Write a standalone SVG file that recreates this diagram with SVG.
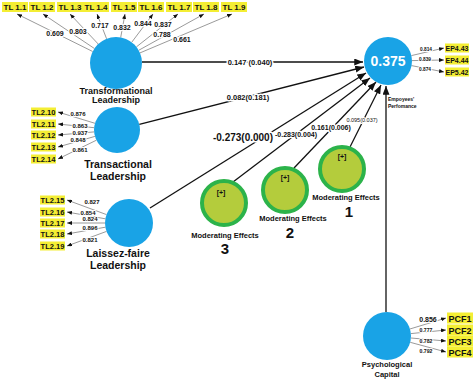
<svg xmlns="http://www.w3.org/2000/svg" width="474" height="379" viewBox="0 0 474 379">
<style>
text{font-family:"Liberation Sans",Arial,sans-serif;font-weight:bold;fill:#111}
.lv{fill:#19a3e6}
.mod{fill:#b4cc3c;stroke:#2cb34a;stroke-width:4}
.box{fill:#f4ee34}
.bt{font-size:7.5px;text-anchor:middle}
.ind{stroke:#555;stroke-width:0.6;fill:none;marker-end:url(#sh)}
.main{stroke:#111;stroke-width:1.3;fill:none;marker-end:url(#ah)}
.ld{font-size:7px;text-anchor:middle;stroke:#fff;stroke-width:2.5;paint-order:stroke;stroke-linejoin:round}
.ls{font-size:6px;text-anchor:middle;stroke:#fff;stroke-width:2;paint-order:stroke;stroke-linejoin:round}
.pl{font-size:7.5px;text-anchor:middle;stroke:#fff;stroke-width:3;paint-order:stroke;stroke-linejoin:round}
.nm{text-anchor:middle}
.me{font-size:7.5px;text-anchor:middle}
.num{font-size:15px;text-anchor:middle}
.plus{font-size:7px;text-anchor:middle}
</style>
<defs>
<marker id="ah" viewBox="0 0 10 8" markerUnits="userSpaceOnUse" markerWidth="9" markerHeight="7" refX="10" refY="4" orient="auto"><path d="M0,0 L10,4 L0,8 z" fill="#111"/></marker>
<marker id="sh" viewBox="0 0 10 8" markerUnits="userSpaceOnUse" markerWidth="5" markerHeight="4" refX="10" refY="4" orient="auto"><path d="M0,0 L10,4 L0,8 z" fill="#111"/></marker>
</defs>
<rect width="474" height="379" fill="#fff"/>

<g id="connectors">
<!-- TL1 indicators -->
<line class="ind" x1="92.7" y1="51.5" x2="17" y2="14"/>
<line class="ind" x1="94.4" y1="48.5" x2="43" y2="14"/>
<line class="ind" x1="98.2" y1="44" x2="70" y2="14"/>
<line class="ind" x1="106.6" y1="38.8" x2="97" y2="14"/>
<line class="ind" x1="120.7" y1="37.4" x2="125" y2="14"/>
<line class="ind" x1="131.7" y1="42.3" x2="153" y2="14"/>
<line class="ind" x1="136.4" y1="46.9" x2="178" y2="14"/>
<line class="ind" x1="138.7" y1="50.3" x2="204" y2="14"/>
<line class="ind" x1="140" y1="52.9" x2="232" y2="14"/>
<!-- TL2 transactional indicators -->
<line class="ind" x1="95" y1="123.3" x2="58" y2="112"/>
<line class="ind" x1="94.1" y1="127.7" x2="58" y2="124"/>
<line class="ind" x1="94.1" y1="131.9" x2="58" y2="135"/>
<line class="ind" x1="94.9" y1="136.4" x2="58" y2="147"/>
<line class="ind" x1="96.4" y1="140.2" x2="58" y2="159"/>
<!-- Laissez-faire indicators -->
<line class="ind" x1="106.5" y1="214.6" x2="67" y2="200"/>
<line class="ind" x1="105.4" y1="218.8" x2="67" y2="212"/>
<line class="ind" x1="105" y1="223" x2="67" y2="223"/>
<line class="ind" x1="105.4" y1="227.2" x2="67" y2="234"/>
<line class="ind" x1="106.5" y1="231.4" x2="67" y2="246"/>
<!-- EP indicators -->
<line class="ind" x1="411.4" y1="55.6" x2="444" y2="48"/>
<line class="ind" x1="412" y1="60.6" x2="444" y2="60"/>
<line class="ind" x1="411.5" y1="65.6" x2="444" y2="72"/>
<!-- PCF indicators -->
<line class="ind" x1="409.9" y1="329" x2="446" y2="318"/>
<line class="ind" x1="410.9" y1="333.6" x2="446" y2="330"/>
<line class="ind" x1="410.9" y1="338" x2="446" y2="341"/>
<line class="ind" x1="410.2" y1="342.3" x2="446" y2="352"/>
<!-- structural paths -->
<line class="main" x1="142" y1="62" x2="363" y2="62"/>
<line class="main" x1="139.3" y1="124.3" x2="364" y2="67"/>
<line class="main" x1="150" y1="208" x2="366" y2="73"/>
<line class="main" x1="233" y1="182" x2="370" y2="78"/>
<line class="main" x1="294" y1="168" x2="376" y2="82"/>
<line class="main" x1="350" y1="147" x2="381" y2="85"/>
<line class="main" x1="386" y1="312" x2="386" y2="86"/>
<!-- path labels -->
<text class="pl" x="250" y="64.5">0.147 (0.040)</text>
<text class="pl" x="248" y="99.5">0.082(0.181)</text>
<text class="pl" x="243" y="141" style="font-size:10px">-0.273(0.000)</text>
<text class="pl" x="296" y="136.5" style="font-size:7px">-0.283(0.004)</text>
<text class="pl" x="331" y="129.5" style="font-size:7px">0.161(0.006)</text>
<text class="ls" x="362" y="122" style="font-weight:normal;font-size:5.5px">0.095(0.037)</text>
<!-- loading labels -->
<text class="ld" x="55" y="35.5">0.609</text>
<text class="ld" x="78" y="33.5">0.803</text>
<text class="ld" x="100" y="28">0.717</text>
<text class="ld" x="122" y="29.5">0.832</text>
<text class="ld" x="143" y="26">0.844</text>
<text class="ld" x="163" y="27">0.837</text>
<text class="ld" x="162" y="37">0.788</text>
<text class="ld" x="182" y="42">0.661</text>
<text class="ls" x="78" y="116">0.876</text>
<text class="ls" x="80" y="128">0.863</text>
<text class="ls" x="80" y="135">0.937</text>
<text class="ls" x="78" y="142">0.848</text>
<text class="ls" x="80" y="152">0.861</text>
<text class="ls" x="92" y="204">0.827</text>
<text class="ls" x="88" y="215">0.854</text>
<text class="ls" x="90" y="221">0.824</text>
<text class="ls" x="90" y="230">0.896</text>
<text class="ls" x="90" y="242">0.821</text>
<text class="ls" x="426" y="51" style="font-size:4.8px">0.814</text>
<text class="ls" x="425" y="61" style="font-size:4.8px">0.839</text>
<text class="ls" x="425" y="71" style="font-size:4.8px">0.874</text>
<text class="ld" x="428" y="322">0.856</text>
<text class="ls" x="426" y="332" style="font-size:5.2px">0.777</text>
<text class="ls" x="426" y="343" style="font-size:5.2px">0.782</text>
<text class="ls" x="426" y="353" style="font-size:5.2px">0.792</text>
</g>

<g id="tl1-indicators">
<rect class="box" x="2" y="2" width="26" height="10"/><text class="bt" x="15" y="10" style="font-size:8px">TL 1.1</text>
<rect class="box" x="29" y="2" width="26" height="10"/><text class="bt" x="42" y="10" style="font-size:8px">TL 1.2</text>
<rect class="box" x="57" y="2" width="26" height="10"/><text class="bt" x="70" y="10" style="font-size:8px">TL 1.3</text>
<rect class="box" x="83" y="2" width="26" height="10"/><text class="bt" x="96" y="10" style="font-size:8px">TL 1.4</text>
<rect class="box" x="111" y="2" width="26" height="10"/><text class="bt" x="124" y="10" style="font-size:8px">TL 1.5</text>
<rect class="box" x="138" y="2" width="26" height="10"/><text class="bt" x="151" y="10" style="font-size:8px">TL 1.6</text>
<rect class="box" x="166" y="2" width="26" height="10"/><text class="bt" x="179" y="10" style="font-size:8px">TL 1.7</text>
<rect class="box" x="193" y="2" width="26" height="10"/><text class="bt" x="206" y="10" style="font-size:8px">TL 1.8</text>
<rect class="box" x="221" y="2" width="26" height="10"/><text class="bt" x="234" y="10" style="font-size:8px">TL 1.9</text>
</g>
<g id="tl2-indicators">
<rect class="box" x="31" y="107.5" width="25" height="9"/><text class="bt" x="43.5" y="115">TL2.10</text>
<rect class="box" x="31" y="119.5" width="25" height="9"/><text class="bt" x="43.5" y="127">TL2.11</text>
<rect class="box" x="31" y="130.5" width="25" height="9"/><text class="bt" x="43.5" y="138">TL2.12</text>
<rect class="box" x="31" y="142.5" width="25" height="9"/><text class="bt" x="43.5" y="150">TL2.13</text>
<rect class="box" x="31" y="154.5" width="25" height="9"/><text class="bt" x="43.5" y="162">TL2.14</text>
</g>
<g id="lf-indicators">
<rect class="box" x="40" y="195.5" width="25" height="9"/><text class="bt" x="52.5" y="203">TL2.15</text>
<rect class="box" x="40" y="207.5" width="25" height="9"/><text class="bt" x="52.5" y="215">TL2.16</text>
<rect class="box" x="40" y="218.5" width="25" height="9"/><text class="bt" x="52.5" y="226">TL2.17</text>
<rect class="box" x="40" y="229.5" width="25" height="9"/><text class="bt" x="52.5" y="237">TL2.18</text>
<rect class="box" x="40" y="241.5" width="25" height="9"/><text class="bt" x="52.5" y="249">TL2.19</text>
</g>
<g id="ep-indicators">
<rect class="box" x="445" y="43.5" width="24" height="9"/><text class="bt" x="457" y="50.5" style="font-size:7px">EP4.43</text>
<rect class="box" x="445" y="55.5" width="24" height="9"/><text class="bt" x="457" y="62.5" style="font-size:7px">EP4.44</text>
<rect class="box" x="445" y="67.5" width="24" height="9"/><text class="bt" x="457" y="74.5" style="font-size:7px">EP5.42</text>
</g>
<g id="pcf-indicators">
<rect class="box" x="447" y="312.5" width="26" height="11"/><text class="bt" x="460" y="321.5" style="font-size:9px">PCF1</text>
<rect class="box" x="447" y="324.5" width="26" height="11"/><text class="bt" x="460" y="333.5" style="font-size:9px">PCF2</text>
<rect class="box" x="447" y="335.5" width="26" height="11"/><text class="bt" x="460" y="344.5" style="font-size:9px">PCF3</text>
<rect class="box" x="447" y="346.5" width="26" height="11"/><text class="bt" x="460" y="355.5" style="font-size:9px">PCF4</text>
</g>

<g id="transformational">
<circle class="lv" cx="116" cy="63" r="26"/>
<text class="nm" x="116" y="94" style="font-size:9px">Transformational</text>
<text class="nm" x="116" y="103" style="font-size:9px">Leadership</text>
</g>
<g id="transactional">
<circle class="lv" cx="117" cy="130" r="23"/>
<text class="nm" x="118" y="168" style="font-size:10.5px">Transactional</text>
<text class="nm" x="118" y="179.5" style="font-size:10.5px">Leadership</text>
</g>
<g id="laissez-faire">
<circle class="lv" cx="129" cy="223" r="24"/>
<text class="nm" x="118" y="257" style="font-size:10.5px">Laissez-faire</text>
<text class="nm" x="118" y="268.5" style="font-size:10.5px">Leadership</text>
</g>
<g id="employee-performance">
<circle class="lv" cx="388" cy="61" r="24"/>
<text class="nm" x="388" y="66" style="font-size:14px;fill:#fff">0.375</text>
<text x="388" y="101" style="font-size:5px">Empoyees'</text>
<text x="388" y="108" style="font-size:5px">Perfomance</text>
</g>
<g id="psychological-capital">
<circle class="lv" cx="387" cy="336" r="24"/>
<text class="nm" x="387" y="367" style="font-size:7.5px">Psychological</text>
<text class="nm" x="387" y="377" style="font-size:7.5px">Capital</text>
</g>
<g id="moderating-1">
<circle class="mod" cx="342" cy="169" r="22"/>
<text class="plus" x="342" y="159">[+]</text>
<text class="me" x="346" y="200">Moderating Effects</text>
<text class="num" x="349" y="217">1</text>
</g>
<g id="moderating-2">
<circle class="mod" cx="285" cy="190" r="22"/>
<text class="plus" x="285" y="180">[+]</text>
<text class="me" x="293" y="221">Moderating Effects</text>
<text class="num" x="290" y="238">2</text>
</g>
<g id="moderating-3">
<circle class="mod" cx="224" cy="203" r="22"/>
<text class="plus" x="221" y="195">[+]</text>
<text class="me" x="225" y="238">Moderating Effects</text>
<text class="num" x="225" y="254">3</text>
</g>
</svg>
